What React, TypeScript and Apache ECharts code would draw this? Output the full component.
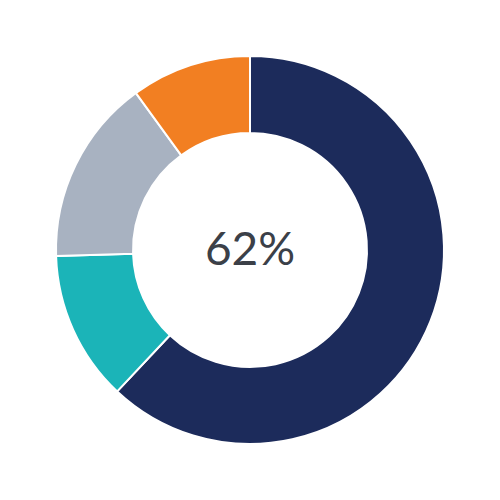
import { useEffect, useRef } from 'react'
import * as echarts from 'echarts'

// Donut: share of total, largest slice highlighted in the centre
const SLICE_NAMES = ['Navy', 'Teal', 'Grey', 'Orange']
const SLICE_VALUES = [62, 12.5, 15.5, 10]
const SLICE_COLORS = ['#1c2b5b', '#1bb4b8', '#a8b2c1', '#f27f22']
const CENTER_LABEL = '62%'

export default function App() {
  const ref = useRef<HTMLDivElement>(null)

  useEffect(() => {
    if (!ref.current) return
    const chart = echarts.init(ref.current, undefined, { renderer: 'svg' })
    chart.setOption({
      animation: false,
      backgroundColor: '#ffffff',
      title: {
        text: CENTER_LABEL,
        left: 'center',
        top: 219,
        textStyle: {
          color: '#3b4048',
          fontSize: 46,
          fontWeight: 400,
          fontFamily: 'Lato, sans-serif',
        },
      },
      series: [
        {
          type: 'pie',
          center: [250, 250],
          radius: [117, 194],
          startAngle: 90,
          clockwise: true,
          label: { show: false },
          labelLine: { show: false },
          itemStyle: { borderColor: '#ffffff', borderWidth: 2 },
          data: SLICE_NAMES.map((name, i) => ({
            name,
            value: SLICE_VALUES[i],
            itemStyle: { color: SLICE_COLORS[i] },
          })),
        },
      ],
    })
    return () => chart.dispose()
  }, [])

  return (
    <div
      ref={ref}
      style={{ position: 'fixed', left: 0, top: 0, width: 500, height: 500 }}
    />
  )
}
